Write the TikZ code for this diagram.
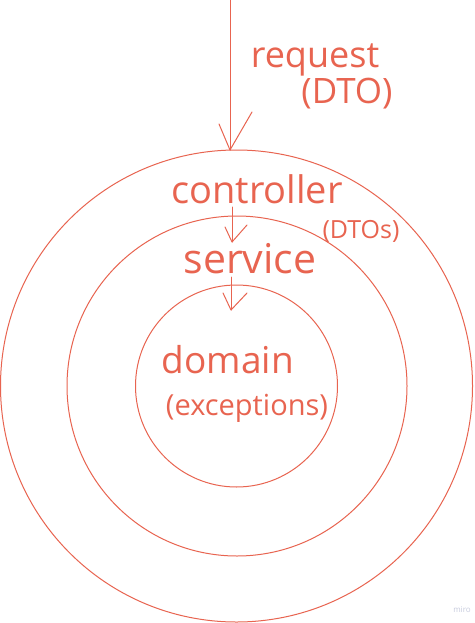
\documentclass[tikz,border=0pt]{standalone}
\usepackage{fontspec}
\setmainfont{Open Sans}
\usetikzlibrary{arrows.meta}
\definecolor{ink}{RGB}{232,100,80}
\definecolor{wm}{RGB}{200,204,222}
\tikzset{
  ring/.style={circle,draw=ink,line width=1pt,inner sep=0pt},
  hand/.style={text=ink,inner sep=0pt,anchor=base},
  stroke/.style={draw=ink,line width=1pt,line cap=round,line join=round}
}
\newcommand{\fs}[1]{\fontsize{#1}{#1}\selectfont}
\begin{document}
\begin{tikzpicture}[x=1pt,y=-1pt]
\useasboundingbox (0,0) rectangle (474,623);
\fill[white] (0,0) rectangle (474,623);
\clip (0,0) rectangle (474,623);
% rings
\node[ring,minimum size=472pt] (outer) at (236.5,386) {};
\node[ring,minimum size=340pt] (middle) at (237,386) {};
\node[ring,minimum size=202pt] (inner) at (236.5,386) {};
% request arrow
\coordinate (reqtop) at (230,-2);
\coordinate (reqtip) at (230,150);
\draw[stroke] (reqtop) -- (reqtip);
\draw[stroke] (219,124) -- (reqtip) -- (252,112);
% labels
\node[hand,font=\fs{36}] (request) at (315,68) {request};
\node[hand,font=\fs{35}] (dto) at (347,104) {(DTO)};
\node[hand,font=\fs{38}] (controller) at (257,203) {controller};
\node[hand,font=\fs{25}] (dtos) at (361,238) {(DTOs)};
\node[hand,font=\fs{41}] (service) at (250,273) {service};
\node[hand,font=\fs{37}] (domain) at (228,373) {domain};
\node[hand,font=\fs{29}] (exc) at (247,415) {(exceptions)};
\node[text=wm,inner sep=0pt,font=\fs{8}] (miro) at (462,610) {miro};
% small arrows
\coordinate (a1s) at (232,207);
\coordinate (a1t) at (232,242);
\draw[stroke] (a1s) -- (a1t);
\draw[stroke] (225,227) -- (a1t) -- (247,225);
\coordinate (a2s) at (231,277);
\coordinate (a2t) at (231,310);
\draw[stroke] (a2s) -- (a2t);
\draw[stroke] (223,293) -- (a2t) -- (247,293);
\end{tikzpicture}
\end{document}
